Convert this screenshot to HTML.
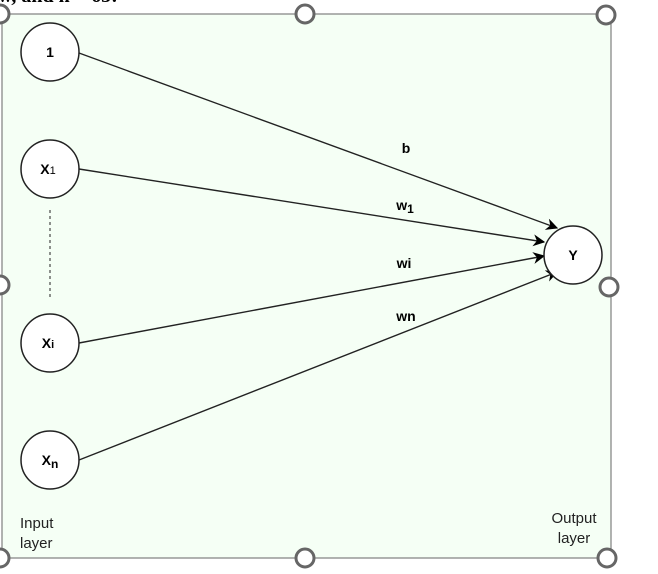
<!DOCTYPE html>
<html><head><meta charset="utf-8"><style>
html,body{margin:0;padding:0;background:#fff;width:658px;height:574px;overflow:hidden}
svg{display:block}
</style></head><body>
<svg width="658" height="574" viewBox="0 0 658 574" xmlns="http://www.w3.org/2000/svg" font-family="Liberation Sans, Arial, sans-serif">
<text x="-2" y="2" font-family="Liberation Serif, serif" font-size="20" font-weight="bold" fill="#000">w, and n = 63:</text>
<rect x="2" y="14" width="609" height="544" fill="#f5fff5" stroke="#666" stroke-width="1"/>
<defs><marker id="a" viewBox="0 0 10 10" refX="9" refY="5" markerWidth="14" markerHeight="12" markerUnits="userSpaceOnUse" orient="auto"><path d="M0,0 L10,5 L0,10 L3,5 z" fill="#000"/></marker></defs>
<g stroke="#222" stroke-width="1.4" fill="none">
<line x1="79" y1="53" x2="557" y2="228" marker-end="url(#a)"/>
<line x1="79" y1="169" x2="544" y2="242" marker-end="url(#a)"/>
<line x1="79" y1="343" x2="544" y2="256" marker-end="url(#a)"/>
<line x1="79" y1="460" x2="557" y2="272" marker-end="url(#a)"/>
<line x1="50" y1="210" x2="50" y2="300" stroke-dasharray="3,3" stroke-width="1"/>
</g>
<g stroke="#222" stroke-width="1.5" fill="#fff">
<circle cx="50" cy="52" r="29"/><circle cx="50" cy="169" r="29"/>
<circle cx="50" cy="343" r="29"/><circle cx="50" cy="460" r="29"/>
<circle cx="573" cy="255" r="29"/>
</g>
<g font-size="14" font-weight="bold" fill="#000" text-anchor="middle">
<text x="50" y="57">1</text>
<text x="48" y="174">X<tspan font-size="11" font-weight="normal">1</tspan></text>
<text x="48" y="348">X<tspan font-size="11">i</tspan></text>
<text x="50" y="465">X<tspan font-size="12" dy="3">n</tspan></text>
<text x="573" y="260">Y</text>
<text x="406" y="153">b</text>
<text x="405" y="210">w<tspan font-size="12" dy="3">1</tspan></text>
<text x="404" y="268">wi</text>
<text x="406" y="321">wn</text>
</g>
<g font-size="15" fill="#222">
<text x="20" y="528">Input</text><text x="20" y="548">layer</text>
<text x="574" y="523" text-anchor="middle">Output</text><text x="574" y="543" text-anchor="middle">layer</text>
</g>
<g fill="#fff" stroke="#666" stroke-width="3">
<circle cx="0" cy="14" r="9"/><circle cx="305" cy="14" r="9"/><circle cx="606" cy="15" r="9"/>
<circle cx="0" cy="285" r="9"/><circle cx="609" cy="287" r="9"/>
<circle cx="0" cy="558" r="9"/><circle cx="305" cy="558" r="9"/><circle cx="607" cy="558" r="9"/>
</g>
</svg>
</body></html>
